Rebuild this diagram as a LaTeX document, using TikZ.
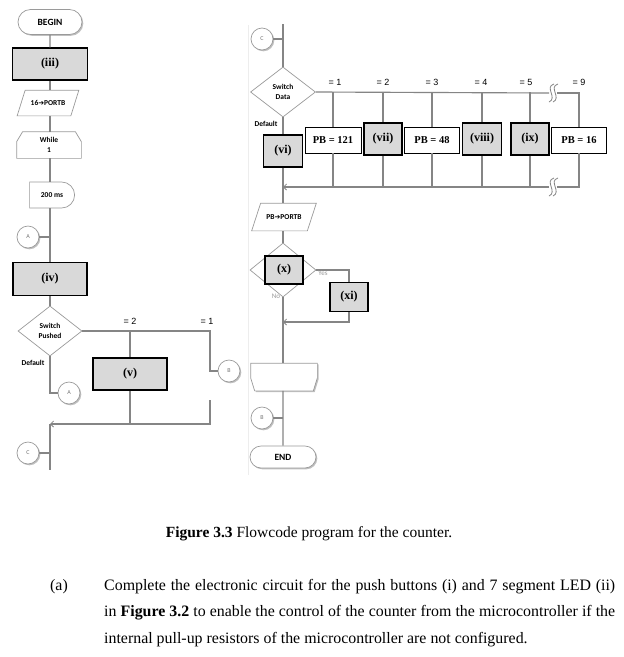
\documentclass[tikz,border=0pt]{standalone}
\usepackage{fontspec}
\setmainfont{Liberation Serif}
\newfontfamily\fcb{Carlito}
\newfontfamily\arl{Liberation Sans}
\newfontfamily\symf{DejaVu Sans}
\usetikzlibrary{arrows.meta,shapes.geometric,shapes.misc,shadows}
\definecolor{lcol}{HTML}{858585}
\definecolor{scol}{HTML}{9A9A9A}
\definecolor{boxgray}{HTML}{D9D9D9}
\newcommand{\rarr}{{\symf\fontsize{7}{7}\selectfont ➔}}
\tikzset{
  ln/.style={draw=lcol, line width=1.15pt},
  arr/.style={ln, -{Straight Barb[length=3pt,width=6pt,line width=0.8pt]}},
  fshape/.style={draw=scol, line width=0.7pt, fill=white, inner sep=0pt, align=center,
    font=\fcb\bfseries\fontsize{7.5}{10}\selectfont},
  holder/.style={fshape, draw=none, fill=none, rectangle},
  outl/.style={draw=scol, line width=0.7pt, fill=white},
  shad/.style={drop shadow={shadow xshift=1.3pt, shadow yshift=-1.3pt, fill=black!35, opacity=0.7}},
  term/.style={fshape, shad, rounded rectangle, font=\fcb\bfseries\fontsize{9.5}{10}\selectfont},
  delaybox/.style={fshape, rounded rectangle, rounded rectangle left arc=none},
  dec/.style={fshape, diamond, aspect=1.3},
  conn/.style={fshape, shad, circle, minimum size=22pt, text=black!55,
    font=\fcb\fontsize{6}{7}\selectfont},
  gbox/.style={draw=black, line width=1.5pt, fill=boxgray, inner sep=0pt,
    font=\bfseries\fontsize{12}{12}\selectfont},
  pbbox/.style={draw=black, line width=0.9pt, fill=white, inner sep=0pt,
    minimum height=26pt, font=\bfseries\fontsize{10.5}{11}\selectfont},
  eqlab/.style={font=\arl\fontsize{9}{10}\selectfont, inner sep=0pt},
  deflab/.style={font=\fcb\bfseries\fontsize{7.5}{9}\selectfont, inner sep=0pt},
  ynlab/.style={font=\fcb\fontsize{7}{8}\selectfont, text=black!40, inner sep=0pt},
  brk/.style={draw=lcol, line width=0.8pt},
  txt/.style={font=\fontsize{15.5}{18}\selectfont, inner sep=0pt},
  ptxt/.style={font=\fontsize{15.9}{18}\selectfont, inner sep=0pt, anchor=west}
}
\begin{document}
\begin{tikzpicture}[x=1pt,y=-1pt]
\useasboundingbox (0,0) rectangle (624,657);
\fill[white] (0,0) rectangle (624,657);
% faint separator
\draw[black!7, line width=0.8pt] (248,25) -- (248,475);

% ================= left column =================
\node[term, minimum width=64pt, minimum height=25pt] (begin) at (50,22) {BEGIN};
\node[gbox, minimum width=75pt, minimum height=32pt] (iii) at (50,64) {(iii)};
% parallelogram 16 -> PORTB
\node[holder, minimum width=61pt, minimum height=25pt] (io1) at (48,103) {};
\path[outl] ([xshift=8pt]io1.north west) -- (io1.north east) -- ([xshift=-8pt]io1.south east)
  -- (io1.south west) -- cycle;
\node[holder] (io1t) at (io1) {16\rarr PORTB};
% while loop
\node[holder, minimum width=64pt, minimum height=26pt] (while) at (49,145) {};
\path[outl] ([xshift=6pt]while.north west) -- ([xshift=-6pt]while.north east)
  -- ([yshift=-10pt]while.north east) -- (while.south east) -- (while.south west)
  -- ([yshift=-10pt]while.north west) -- cycle;
\node[holder] (whilet) at (while) {While\\1};
\node[delaybox, minimum width=45pt, minimum height=26pt] (delay) at (52,195) {200 ms};
\node[conn] (A1) at (28,237) {A};
\node[gbox, minimum width=74pt, minimum height=33pt] (iv) at (50,279) {(iv)};
\node[dec, minimum width=64pt, minimum height=50pt] (sp) at (50,331) {Switch\\Pushed};
\node[gbox, minimum width=74pt, minimum height=32pt] (v) at (130,374) {(v)};
\node[conn] (B1) at (229,371) {B};
\node[conn] (A2) at (69,393) {A};
\node[conn] (C1) at (28,453) {C};
\coordinate (k1) at (210,331);
\coordinate (k2) at (210,400);
\coordinate (m1) at (50,424);
\coordinate (e1) at (50,470);

\draw[ln] (begin) -- (iii);
\draw[ln] (iii) -- (iii |- io1.north);
\draw[ln] (iii |- io1.south) -- (iii |- while.north);
\draw[ln] (iii |- while.south) -- (iii |- delay.north);
\draw[ln] (delay.south -| iv) -- (iv);
\draw[ln] (A1) -- (A1 -| iv);
\draw[ln] (iv) -- (sp);
\draw[ln] (sp.east) -- (k1) |- (B1.west);
\draw[ln] (v.north |- sp.east) -- (v);
\draw[ln] (sp.south) |- (A2.west);
\draw[ln] (v) -- (v |- m1);
\draw[arr] (k2) |- (m1);
\draw[ln] (m1) -- (e1);
\draw[ln] (C1) -- (C1 -| m1);
\node[eqlab] (l2) at (130,321) {= 2};
\node[eqlab] (l1) at (207,321) {= 1};
\node[deflab] (d1) at (33,363) {Default};

% ================= right column =================
\node[conn] (C2) at (262,39) {C};
\coordinate (t2) at (283,24);
\node[dec, minimum width=65pt, minimum height=50pt] (sd) at (283,92) {Switch\\Data};
\node[gbox, minimum width=39pt, minimum height=32pt] (vi) at (283,151) {(vi)};
\node[pbbox, minimum width=56pt] (pb121) at (333,140) {PB = 121};
\node[gbox, minimum width=38pt, minimum height=32pt] (vii) at (383,139) {(vii)};
\node[pbbox, minimum width=55pt] (pb48) at (432,140) {PB = 48};
\node[gbox, minimum width=39pt, minimum height=32pt] (viii) at (482,139) {(viii)};
\node[gbox, minimum width=38pt, minimum height=32pt] (ix) at (530,139) {(ix)};
\node[pbbox, minimum width=55pt] (pb16) at (579,140) {PB = 16};
\coordinate (m2) at (283,187);
\coordinate (bA) at (549,93);
\coordinate (bB) at (557,93);
\coordinate (bC) at (549,187);
\coordinate (bD) at (557,187);

\draw[ln] (t2) -- (sd);
\draw[ln] (C2) -- (C2 -| t2);
\draw[ln] (sd.east) -- (bA);
\draw[ln] (bB) -| (pb16);
\foreach \b in {pb121,vii,pb48,viii,ix}{
  \draw[ln] (\b |- sd.east) -- (\b);
  \draw[ln] (\b) -- (\b |- m2);
}
\draw[ln] (pb16) |- (bD);
\draw[arr] (bC) -- (m2);
\draw[ln] (sd) -- (vi);
\draw[ln] (vi) -- (m2);
% break marks (S-shaped)
\foreach \yy in {93,187}{
  \draw[brk] (554,\yy-9) .. controls (544,\yy-6) and (558,\yy+5) .. (549,\yy+9);
  \draw[brk] (558,\yy-9) .. controls (548,\yy-6) and (562,\yy+5) .. (553,\yy+9);
}

\node[eqlab] (r1) at (335,82) {= 1};
\node[eqlab] (r2) at (383,82) {= 2};
\node[eqlab] (r3) at (432,82) {= 3};
\node[eqlab] (r4) at (481,82) {= 4};
\node[eqlab] (r5) at (526,82) {= 5};
\node[eqlab] (r9) at (579,82) {= 9};
\node[deflab] (d2) at (266,124) {Default};

% parallelogram PB -> PORTB
\node[holder, minimum width=64pt, minimum height=27pt] (io2) at (284,217) {};
\path[outl] ([xshift=9pt]io2.north west) -- (io2.north east) -- ([xshift=-9pt]io2.south east)
  -- (io2.south west) -- cycle;
\node[holder] (io2t) at (io2) {PB\rarr PORTB};
\node[dec, minimum width=66pt, minimum height=54pt] (dx) at (283,270) {};
\node[gbox, minimum width=38pt, minimum height=28pt] (x) at (284,270) {(x)};
\node[gbox, minimum width=38pt, minimum height=29pt] (xi) at (349,297) {(xi)};
\coordinate (m3) at (283,322);
% loop end
\node[holder, minimum width=66pt, minimum height=27pt] (le) at (284,377) {};
\path[outl, shad] (le.north west) -- (le.north east) -- ([yshift=13pt]le.south east)
  -- ([xshift=-4pt]le.south east) -- ([xshift=4pt]le.south west)
  -- ([yshift=13pt]le.south west) -- cycle;
\node[conn] (B2) at (262,418) {B};
\node[term, minimum width=66pt, minimum height=22pt] (end) at (283,457) {END};

\draw[ln] (m2) -- (io2.north -| m2);
\draw[ln] (io2.south -| m2) -- (dx);
\draw[ln] (dx.east) -| (xi.north);
\draw[arr] (xi.south) |- (m3);
\draw[ln] (dx.south) -- (le.north -| dx);
\draw[ln] (le.south -| dx) -- (end);
\draw[ln] (B2) -- (B2 -| dx);
\node[ynlab] (yes) at (323,273) {Yes};
\node[ynlab] (no) at (276,296) {No};

% ================= text =================
\node[txt] (cap) at (309,534) {\textbf{Figure 3.3} Flowcode program for the counter.};
\node[ptxt] (pa) at (50,587) {(a)};
\node[ptxt] (p1) at (104,587) {\makebox[511pt][s]{Complete the electronic circuit for the push buttons (i) and 7 segment LED (ii)}};
\node[ptxt] (p2) at (104,613) {\makebox[511pt][s]{in \textbf{Figure 3.2} to enable the control of the counter from the microcontroller if the}};
\node[ptxt] (p3) at (104,640) {internal pull-up resistors of the microcontroller are not configured.};
\end{tikzpicture}
\end{document}
